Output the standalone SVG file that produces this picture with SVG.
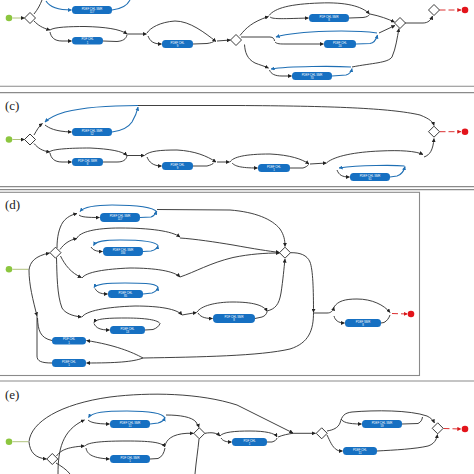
<svg xmlns="http://www.w3.org/2000/svg" width="474" height="474" viewBox="0 0 474 474">
<style>
.e{fill:none;stroke:#2b2b2b;stroke-width:0.9}
.bl{fill:none;stroke:#1f6fb4;stroke-width:1.1}
.s{fill:none;stroke:#9cb35a;stroke-width:0.8}
.r{fill:none;stroke:#d8191a;stroke-width:0.9;stroke-dasharray:6 3}
.n{fill:#1670c2}
.d{fill:#fff;stroke:#222;stroke-width:0.9}
.t{font-family:"Liberation Sans",Arial,sans-serif;font-size:2.8px;fill:#fff;text-anchor:middle}
.fr{stroke:#8a8a8a;stroke-width:1.1;fill:none}
.lb{font-family:"Liberation Serif","Times New Roman",serif;font-size:13px;fill:#222}
.st{fill:#8cc63f}
.en{fill:#e3141b}
</style>
<defs>
<marker id="ak" viewBox="0 0 6 6" refX="5.5" refY="3" markerWidth="4" markerHeight="4" markerUnits="userSpaceOnUse" orient="auto"><path d="M0,0 L6,3 L0,6 z" fill="#222"/></marker>
<marker id="ab" viewBox="0 0 6 6" refX="5.5" refY="3" markerWidth="4" markerHeight="4" markerUnits="userSpaceOnUse" orient="auto"><path d="M0,0 L6,3 L0,6 z" fill="#1f6fb4"/></marker>
<marker id="ar" viewBox="0 0 6 6" refX="5.5" refY="3" markerWidth="4" markerHeight="4" markerUnits="userSpaceOnUse" orient="auto"><path d="M0,0 L6,3 L0,6 z" fill="#d8191a"/></marker>
</defs>
<rect width="474" height="474" fill="#fff"/>

<g id="frames">
<line class="fr" x1="0" y1="86.3" x2="474" y2="86.3"/>
<line class="fr" x1="0" y1="92.6" x2="474" y2="92.6"/>
<line class="fr" x1="0" y1="186.6" x2="474" y2="186.6"/>
<line class="fr" x1="0" y1="189.6" x2="474" y2="189.6"/>
<rect class="fr" x="-1" y="192.3" width="420.5" height="183.2"/>
<line class="fr" x1="0" y1="381" x2="474" y2="381"/>
<text class="lb" x="5" y="110">(c)</text>
<text class="lb" x="5" y="209">(d)</text>
<text class="lb" x="5" y="399">(e)</text>
</g>

<g id="connectors">
<!-- panel b -->
<path class="s" d="M12.5,18 L24.5,18" marker-end="url(#ak)"/>
<path class="e" d="M34,14 C38,9 40,5 42,0"/>
<path class="bl" d="M46,1 C49,6 55,10 71.5,10" marker-end="url(#ab)"/>
<path class="bl" d="M112,10 C121,9 127,6 130,0"/>
<path class="e" d="M34,21 C38,25 42,28 50,30" marker-end="url(#ak)"/>
<path class="e" d="M50,30 C54,27 70,26.5 85,26.5 C105,27 120,29 127,34" marker-end="url(#ak)"/>
<path class="e" d="M50,32 C51,37 54,41 62,41 L71.5,41" marker-end="url(#ak)"/>
<path class="e" d="M103,41 L117,41.5 C123,41 126,39 127,35"/>
<path class="e" d="M127,34 L146.5,34" marker-end="url(#ak)"/>
<path class="e" d="M147,33 C150,28 160,22 175,21 C190,21 205,33 216,41.5" marker-end="url(#ak)"/>
<path class="e" d="M148,36 C150,41 153,44 161.5,44" marker-end="url(#ak)"/>
<path class="e" d="M193,44 L207,43.5 C211,43 213,42 214.5,41"/>
<path class="e" d="M217,41 L230.5,40" marker-end="url(#ak)"/>
<path class="e" d="M240,35.5 C246,28 252,22 268.5,16.5" marker-end="url(#ak)"/>
<path class="e" d="M269,15.5 C275,8 290,4 320,3 C345,2 362,6 369.5,14" marker-end="url(#ak)"/>
<path class="e" d="M270,17 C273,19 278,19 308.5,18" marker-end="url(#ak)"/>
<path class="e" d="M349,18 L363,17.5 C367,17 368.5,16 369.5,14.5"/>
<path class="e" d="M370,14 C380,16 388,19 394.5,22" marker-end="url(#ak)"/>
<path class="e" d="M241,37 L270,37 C273,37 274.5,39 274.5,41"/>
<path class="bl" d="M377,33 C355,30 300,30 276,37" marker-end="url(#ab)"/>
<path class="e" d="M275,42 C277,44 280,44 286,44 L323.5,44" marker-end="url(#ak)"/>
<path class="bl" d="M356,44 L370,43.5 C374,43 376,40 377.5,35" marker-end="url(#ab)"/>
<path class="e" d="M379,33 L395,25.5" marker-end="url(#ak)"/>
<path class="e" d="M244.5,44.5 C245,52 247,59 255,63 C260,65 264,66 268.5,68" marker-end="url(#ak)"/>
<path class="bl" d="M351,67 C335,66 290,66 271,69" marker-end="url(#ab)"/>
<path class="e" d="M269.5,70 C271,74 275,76 282,76 L291.5,76" marker-end="url(#ak)"/>
<path class="bl" d="M332,76 L346,75 C350,74 351.5,71 352,68.5" marker-end="url(#ab)"/>
<path class="e" d="M352,67 C372,63 388,63 392,57 C396,48 397,38 399,28.5" marker-end="url(#ak)"/>
<path class="e" d="M405,23 L423,23 C428,23 431,20 432.5,16" marker-end="url(#ak)"/>
<path class="r" d="M439.5,10 L461,10" marker-end="url(#ar)"/>

<!-- panel c -->
<path class="s" d="M12.5,139.5 L24.5,139.5" marker-end="url(#ak)"/>
<path class="e" d="M34,135 C37,130 39,126 42.5,123.5" marker-end="url(#ak)"/>
<path class="bl" d="M138,105.5 C110,105.5 85,107 65,112 C55,115 49,118 45,122" marker-end="url(#ab)"/>
<path class="e" d="M45,125 C49,128 55,131.5 71.5,132" marker-end="url(#ak)"/>
<path class="bl" d="M112,132 C120,131 128,128 132,122 C135,117 137,112 138,107" marker-end="url(#ab)"/>
<path class="e" d="M138,105.5 L237,105.5 C330,106 390,108 420,115 C430,119 433,122 434,125.5" marker-end="url(#ak)"/>
<path class="e" d="M34,143.5 C38,148 42,151 50,152" marker-end="url(#ak)"/>
<path class="e" d="M50,151.5 C54,149 70,148 90,148 C110,149 122,151 127,155.5" marker-end="url(#ak)"/>
<path class="e" d="M50,153 C51,158 54,162 62,162 L71.5,162" marker-end="url(#ak)"/>
<path class="e" d="M103,162 L117,162 C123,162 126,160 127,156"/>
<path class="e" d="M127,155.5 L144.5,155.5" marker-end="url(#ak)"/>
<path class="e" d="M145,155 C150,151 160,150 177,150 C195,151 207,156 216,162" marker-end="url(#ak)"/>
<path class="e" d="M147,157 C149,162 153,166 161.5,166" marker-end="url(#ak)"/>
<path class="e" d="M193,166 L207,166 C211,165 213,164 214,162.5"/>
<path class="e" d="M217,162 L229.5,162" marker-end="url(#ak)"/>
<path class="e" d="M230,162 C233,157 245,154 270,154 C290,155 302,159 309,164" marker-end="url(#ak)"/>
<path class="e" d="M232,163 C235,166 240,168 257.5,168" marker-end="url(#ak)"/>
<path class="e" d="M290,168 L303,168 C306,167 307.5,166 308.5,164.5"/>
<path class="e" d="M310,164 L326.5,163" marker-end="url(#ak)"/>
<path class="e" d="M327,162.5 C335,156 355,152 380,151 C400,150 416,151 423,154.5" marker-end="url(#ak)"/>
<path class="e" d="M424,157 C430,155 433,150 434,138.5" marker-end="url(#ak)"/>
<path class="bl" d="M404.5,166 C395,165 360,165 339,168" marker-end="url(#ab)"/>
<path class="e" d="M337,170 C339,175 342,177 349.5,177" marker-end="url(#ak)"/>
<path class="bl" d="M390,177 L397,176 C401,175 403.5,172 405,166.5" marker-end="url(#ab)"/>
<path class="r" d="M439.5,131.7 L461,131.7" marker-end="url(#ar)"/>

<!-- panel d -->
<path class="s" d="M12.5,269.3 L28.5,269.3"/>
<path class="e" d="M29,270 C30,262 35,256 49.5,253" marker-end="url(#ak)"/>
<path class="e" d="M29,270 C29,285 33,300 37,316" marker-end="url(#ak)"/>
<path class="e" d="M37,316 L37,356 C37,361 41,363 52,363"/>
<path class="e" d="M37.5,318 C38,330 40,338 52,340.5"/>
<path class="e" d="M57,248 C57,237 59,228 63,222 C67,217 71,215 77,213.5" marker-end="url(#ak)"/>
<path class="bl" d="M157,212 C153,207 135,205 112,205 C95,205 84,207 80,211.5" marker-end="url(#ab)"/>
<path class="e" d="M79,215 C81,217 87,217.5 99.5,217.5" marker-end="url(#ak)"/>
<path class="bl" d="M140,217.5 L151,217 C154,216 155.5,214 156.5,211" marker-end="url(#ab)"/>
<path class="e" d="M157,209.5 L230,210 C255,212 272,219 280,229 C284,235 285,240 285,246.5" marker-end="url(#ak)"/>
<path class="e" d="M60,249.5 C64,244 69,240 77,238.5" marker-end="url(#ak)"/>
<path class="e" d="M77,238 C80,232 95,228 120,228 C150,228 172,231 180,237" marker-end="url(#ak)"/>
<path class="e" d="M180,238 C195,239 215,242 233,245 C255,249 268,251 279.5,252.5" marker-end="url(#ak)"/>
<path class="bl" d="M158,245.5 C155,241 140,240 120,240 C105,240 96,241 93.5,245.5" marker-end="url(#ab)"/>
<path class="e" d="M91,247 C93,250 96,251.5 102.5,251.5" marker-end="url(#ak)"/>
<path class="bl" d="M143,251.5 L151,251 C155,250 157.5,248 158,245.5" marker-end="url(#ab)"/>
<path class="e" d="M60.5,256 C65,265 71,273 81.5,277.5" marker-end="url(#ak)"/>
<path class="e" d="M82,278 C86,272 105,269 130,268 C155,268 174,271 180,277" marker-end="url(#ak)"/>
<path class="e" d="M180,277 C195,272 210,263 233,257.5 C250,254 265,253 279.5,253" marker-end="url(#ak)"/>
<path class="bl" d="M158,287 C155,283 140,283 125,283 C105,283 96,284 94,287.5" marker-end="url(#ab)"/>
<path class="e" d="M95,288.5 C97,292 100,294 107.5,294" marker-end="url(#ak)"/>
<path class="bl" d="M143,294 L152,293 C155,292 157.5,290 158,287" marker-end="url(#ab)"/>
<path class="e" d="M56.5,258 C57,275 57,295 62,308 C65,313 72,316 81.5,317" marker-end="url(#ak)"/>
<path class="e" d="M82,317 C86,311 105,307 135,306 C160,306 177,309 182,315" marker-end="url(#ak)"/>
<path class="e" d="M160,323.5 C157,319 140,318 125,318 C105,318 96,319 94,322.5" marker-end="url(#ak)"/>
<path class="e" d="M94,323.5 C96,328 100,330 109.5,330" marker-end="url(#ak)"/>
<path class="e" d="M145,330 L153,329.5 C157,328 159,326 160,323.5"/>
<path class="e" d="M182,315 L196.5,312.5" marker-end="url(#ak)"/>
<path class="e" d="M197,312 C201,306 215,302 233,302 C252,302 264,305 267,311.5" marker-end="url(#ak)"/>
<path class="e" d="M198,313 C200,316 203,318.5 212.5,318.5" marker-end="url(#ak)"/>
<path class="e" d="M255,318.5 L262,317 C265,316 266.5,314 267,312"/>
<path class="e" d="M267,311 C275,309 279,305 281,293 C283,280 284,268 285,259" marker-end="url(#ak)"/>
<path class="e" d="M290.5,252.7 C300,252.5 307,255 310,262 C313,270 313.5,290 313.5,312.5" marker-end="url(#ak)"/>
<path class="e" d="M313.5,312.5 C313.5,330 309,343 290,349 C260,356 200,357 143,358"/>
<path class="e" d="M143,358 C132,352 115,345 86.5,340.5" marker-end="url(#ak)"/>
<path class="e" d="M143,358 C133,362 115,363 86.5,363" marker-end="url(#ak)"/>
<path class="e" d="M314,313 L327,313 C331,313 333,311 334,307" marker-end="url(#ak)"/>
<path class="e" d="M334,307 C338,301 345,299 357,299 C372,299 384,305 390,312.5" marker-end="url(#ak)"/>
<path class="e" d="M334,316 C335,320 338,323 344.5,323" marker-end="url(#ak)"/>
<path class="e" d="M381,323 L384,322.5 C387,321 389,318 390,315"/>
<path class="r" d="M392,313.5 L407.5,314" marker-end="url(#ar)"/>

<!-- panel e -->
<path class="s" d="M12.5,441.7 L28.5,441.7"/>
<path class="e" d="M29,441.7 C31,422 60,404 110,397 C150,392 200,393 237,405 L293,433" marker-end="url(#ak)"/>
<path class="e" d="M29,442 C30,452 35,458 46.5,459" marker-end="url(#ak)"/>
<path class="e" d="M58,474 C58,450 62,430 84.5,420" marker-end="url(#ak)"/>
<path class="bl" d="M165,418 C162,412 145,411 127,411 C105,411 92,412 88.5,417.5" marker-end="url(#ab)"/>
<path class="e" d="M88,420 C90,422 95,424 109.5,424" marker-end="url(#ak)"/>
<path class="bl" d="M150,424 L158,423 C162,422 164,420 165,417.5" marker-end="url(#ab)"/>
<path class="e" d="M166,415 C180,415 192,417 196,422 C197.5,425 198.5,426 199,427.5" marker-end="url(#ak)"/>
<path class="e" d="M56.5,456 C60,451 66,447 84.5,446" marker-end="url(#ak)"/>
<path class="e" d="M85,446 C88,442 105,441 127,441 C148,441 162,442 165,447" marker-end="url(#ak)"/>
<path class="e" d="M86,448 C87,453 90,458 109.5,459" marker-end="url(#ak)"/>
<path class="e" d="M150,459 L158,458.5 C162,457 164,453 165,448"/>
<path class="e" d="M165,446 C166,440 172,434 187,433.3 L193.5,433.3" marker-end="url(#ak)"/>
<path class="e" d="M56,463 C61,466 66,469 70,474"/>
<path class="e" d="M199,439 C198,450 196,462 195,474"/>
<path class="e" d="M205,433.3 C212,432 217,433 220,436" marker-end="url(#ak)"/>
<path class="e" d="M220,436 C223,432 235,431 250,431 C265,431 275,433 277,437" marker-end="url(#ak)"/>
<path class="e" d="M221,438 C223,441 226,442 231.5,442" marker-end="url(#ak)"/>
<path class="e" d="M267,442 L272,442 C275,441 276.5,440 277,438"/>
<path class="e" d="M278,437 C283,435 288,434 293,433.3"/>
<path class="e" d="M293,433.3 L315.5,433.3" marker-end="url(#ak)"/>
<path class="e" d="M327,431 C333,430 338,428 340,423 C342,416 344,413 352,412 C375,410 410,410 427,416 C431,418 433,420 434.5,423" marker-end="url(#ak)"/>
<path class="e" d="M341,419 C343,422 347,424 361.5,424" marker-end="url(#ak)"/>
<path class="e" d="M402,424 L418,423.5 C421,422 422,420 422.5,417"/>
<path class="e" d="M327,435 C330,441 332,447 337,450 C339,451 340,451 342.5,451" marker-end="url(#ak)"/>
<path class="e" d="M377,451 C395,450 415,449 428,446 C434,444 436.5,440 437.5,434.5" marker-end="url(#ak)"/>
<path class="r" d="M443.5,428.5 L461,429" marker-end="url(#ar)"/>
</g>

<!-- panel b nodes -->
<g id="b_start"><circle class="st" cx="9" cy="18" r="3.3"/></g>
<g id="b_gw1"><polygon class="d" points="30,12.5 35.5,18 30,23.5 24.5,18"/></g>
<g id="b_n1"><rect class="n" x="72" y="6" width="40" height="8" rx="3.5"/><text class="t" x="92" y="9.5">PDEF CHL SMR</text><text class="t" x="92" y="12.8">117</text></g>
<g id="b_n2"><rect class="n" x="72" y="37" width="31" height="7.5" rx="3.5"/><text class="t" x="87.5" y="40.3">PDF CHL</text><text class="t" x="87.5" y="43.5">1</text></g>
<g id="b_n3"><rect class="n" x="162" y="40" width="31" height="8" rx="3.5"/><text class="t" x="177.5" y="43.5">PDEF CHL</text><text class="t" x="177.5" y="46.7">9</text></g>
<g id="b_gw2"><polygon class="d" points="236,34.5 241.5,40 236,45.5 230.5,40"/></g>
<g id="b_n4"><rect class="n" x="309" y="14" width="40" height="8" rx="3.5"/><text class="t" x="329" y="17.5">PDF CHL SMR</text><text class="t" x="329" y="20.7">8</text></g>
<g id="b_n5"><rect class="n" x="324" y="40" width="32" height="8" rx="3.5"/><text class="t" x="340" y="43.5">PDEF CHL</text><text class="t" x="340" y="46.7">20</text></g>
<g id="b_n6"><rect class="n" x="292" y="72" width="40" height="8" rx="3.5"/><text class="t" x="312" y="75.5">PDEF CHL SMR</text><text class="t" x="312" y="78.7">70</text></g>
<g id="b_gw3"><polygon class="d" points="400,17.5 405.5,23 400,28.5 394.5,23"/></g>
<g id="b_gw4"><polygon class="d" points="434,4.5 439.5,10 434,15.5 428.5,10"/></g>
<g id="b_end"><circle class="en" cx="465" cy="10" r="3.3"/></g>

<!-- panel c nodes -->
<g id="c_start"><circle class="st" cx="9" cy="139.5" r="3.3"/></g>
<g id="c_gw1"><polygon class="d" points="30,134 35.5,139.5 30,145 24.5,139.5"/></g>
<g id="c_n1"><rect class="n" x="72" y="128" width="40" height="8" rx="3.5"/><text class="t" x="92" y="131.5">PDEF CHL SMR</text><text class="t" x="92" y="134.7">52</text></g>
<g id="c_n2"><rect class="n" x="72" y="158" width="31" height="8" rx="3.5"/><text class="t" x="87.5" y="161.5">PDF CHL SMR</text><text class="t" x="87.5" y="164.7">8</text></g>
<g id="c_n3"><rect class="n" x="162" y="162" width="31" height="8" rx="3.5"/><text class="t" x="177.5" y="165.5">PDEF CHL</text><text class="t" x="177.5" y="168.7">9</text></g>
<g id="c_n4"><rect class="n" x="258" y="164" width="32" height="8" rx="3.5"/><text class="t" x="274" y="167.5">PDEF CHL</text><text class="t" x="274" y="170.7">1</text></g>
<g id="c_n5"><rect class="n" x="350" y="173" width="40" height="8" rx="3.5"/><text class="t" x="370" y="176.5">PDEF CHL SMR</text><text class="t" x="370" y="179.7">61</text></g>
<g id="c_gw2"><polygon class="d" points="434,126.2 439.5,131.7 434,137.2 428.5,131.7"/></g>
<g id="c_end"><circle class="en" cx="465" cy="131.7" r="3.3"/></g>

<!-- panel d nodes -->
<g id="d_start"><circle class="st" cx="9" cy="269.3" r="3.3"/></g>
<g id="d_gw1"><polygon class="d" points="55.5,247.2 61,252.7 55.5,258.2 50,252.7"/></g>
<g id="d_n1"><rect class="n" x="100" y="213" width="40" height="9" rx="4"/><text class="t" x="120" y="216.8">PDEF CHL SMR</text><text class="t" x="120" y="220.2">117</text></g>
<g id="d_n2"><rect class="n" x="103" y="247" width="40" height="9" rx="4"/><text class="t" x="123" y="250.8">PDEF CHL SMR</text><text class="t" x="123" y="254.2">184</text></g>
<g id="d_n3"><rect class="n" x="108" y="290" width="35" height="8" rx="3.5"/><text class="t" x="125.5" y="293.5">PDEF CHL</text><text class="t" x="125.5" y="296.7">85</text></g>
<g id="d_n4"><rect class="n" x="110" y="326" width="35" height="8" rx="3.5"/><text class="t" x="127.5" y="329.5">PDEF CHL</text><text class="t" x="127.5" y="332.7">13</text></g>
<g id="d_n5"><rect class="n" x="213" y="314" width="42" height="9" rx="4"/><text class="t" x="234" y="317.8">PDF CHL SMR</text><text class="t" x="234" y="321.2">8</text></g>
<g id="d_n6"><rect class="n" x="345" y="319" width="36" height="8" rx="3.5"/><text class="t" x="363" y="322.5">PDEF SMR</text><text class="t" x="363" y="325.7">8</text></g>
<g id="d_nA"><rect class="n" x="52" y="337" width="34" height="7.5" rx="3.5"/><text class="t" x="69" y="340.3">PDF CHL</text><text class="t" x="69" y="343.5">1</text></g>
<g id="d_nB"><rect class="n" x="52" y="359" width="34" height="8" rx="3.5"/><text class="t" x="69" y="362.5">PDEF CHL</text><text class="t" x="69" y="365.7">1</text></g>
<g id="d_gw2"><polygon class="d" points="285,247.2 290.5,252.7 285,258.2 279.5,252.7"/></g>
<g id="d_end"><circle class="en" cx="411" cy="314" r="3.3"/></g>

<!-- panel e nodes -->
<g id="e_start"><circle class="st" cx="9" cy="441.7" r="3.3"/></g>
<g id="e_gw1"><polygon class="d" points="52.3,453.5 57.8,459 52.3,464.5 46.8,459"/></g>
<g id="e_n1"><rect class="n" x="110" y="420" width="40" height="8" rx="3.5"/><text class="t" x="130" y="423.5">PDEF CHL SMR</text><text class="t" x="130" y="426.7">11</text></g>
<g id="e_n2"><rect class="n" x="110" y="455" width="40" height="8" rx="3.5"/><text class="t" x="130" y="458.5">PDF CHL SMR</text><text class="t" x="130" y="461.7">1</text></g>
<g id="e_gw2"><polygon class="d" points="199.3,427.8 204.8,433.3 199.3,438.8 193.8,433.3"/></g>
<g id="e_n3"><rect class="n" x="232" y="438" width="35" height="8" rx="3.5"/><text class="t" x="249.5" y="441.5">PDF CHL</text><text class="t" x="249.5" y="444.7">1</text></g>
<g id="e_gw3"><polygon class="d" points="321.7,427.8 327.2,433.3 321.7,438.8 316.2,433.3"/></g>
<g id="e_n4"><rect class="n" x="362" y="420" width="40" height="8" rx="3.5"/><text class="t" x="382" y="423.5">PDEF CHL SMR</text><text class="t" x="382" y="426.7">59</text></g>
<g id="e_n5"><rect class="n" x="343" y="447" width="34" height="8" rx="3.5"/><text class="t" x="360" y="450.5">PDEF CHL</text><text class="t" x="360" y="453.7">11</text></g>
<g id="e_gw4"><polygon class="d" points="437.7,422.8 443.2,428.3 437.7,433.8 432.2,428.3"/></g>
<g id="e_end"><circle class="en" cx="465" cy="429" r="3.3"/></g>
</svg>
